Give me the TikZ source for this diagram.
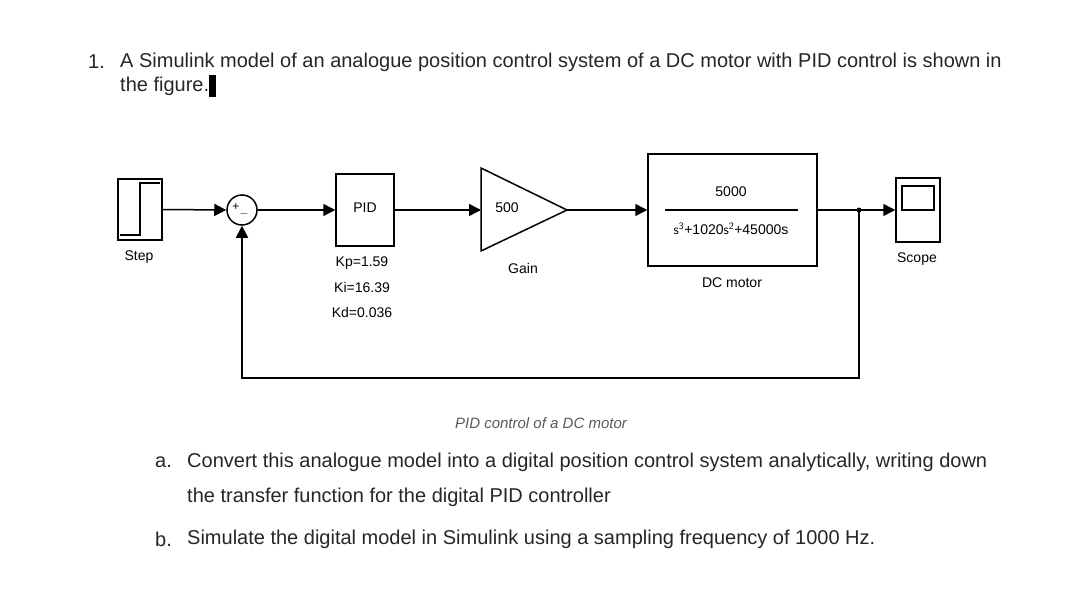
\documentclass[tikz,border=0pt]{standalone}
\usepackage{fontspec}
\setmainfont{Liberation Sans}
\begin{document}
\begin{tikzpicture}[x=1pt,y=-1pt,
  txt/.style={anchor=west,inner sep=0,font=\fontsize{20}{23}\selectfont,text=black!85},
  lbl/.style={inner sep=0,font=\fontsize{14}{16}\selectfont},
  blk/.style={draw,line width=1.5pt,inner sep=0},
  wire/.style={line width=1.5pt},
  arr/.style={wire,-{Triangle[length=12pt,width=12pt]}}]
\useasboundingbox (0,0) rectangle (1080,610);
\usetikzlibrary{arrows.meta}
% texts
\node[txt] (n1) at (88,62) {1.};
\node[txt] (t1) at (120,62) {A Simulink model of an analogue position control system of a DC motor with PID control is shown in};
\node[txt] (t2) at (120,86) {the figure.};
\fill (209,75) rectangle (216,97);
\node[inner sep=0,font=\fontsize{15}{18}\selectfont\itshape,text=black!65] (cap) at (541,423) {PID control of a DC motor};
\node[txt] (na) at (155,462) {a.};
\node[txt] (ta) at (187,462) {Convert this analogue model into a digital position control system analytically, writing down};
\node[txt] (ta2) at (187,497) {the transfer function for the digital PID controller};
\node[txt] (nb) at (155,539) {b.};
\node[txt] (tb) at (187,539) {Simulate the digital model in Simulink using a sampling frequency of 1000 Hz.};
% blocks
\node[blk,minimum width=44pt,minimum height=61pt] (step) at (140,209.5) {};
\draw[line width=1.2pt] (120,235) -- (140,235) -- (140,183) -- (160,183);
\node[lbl] (stepl) at (139,257) {Step};
\node[blk,circle,minimum size=30pt] (sum) at (242,210) {};
\node[lbl,font=\fontsize{12}{12}\selectfont] (plus) at (236,207) {+};
\node[lbl,font=\fontsize{12}{12}\selectfont] (minus) at (244,213) {\textbf{\_}};
\node[blk,minimum width=58pt,minimum height=72pt] (pid) at (365,210) {};
\node[lbl] (pidt) at (365,208) {PID};
\node[lbl] (kp) at (362,263) {Kp=1.59};
\node[lbl] (ki) at (362,287) {Ki=16.39};
\node[lbl] (kd) at (362,312) {Kd=0.036};
\coordinate (gin) at (481,210);
\draw[line width=1.5pt] (481,168) -- (567,210) -- (481,251) -- cycle;
\coordinate (gout) at (567,210);
\node[lbl] (g5) at (507,208) {500};
\node[lbl] (gl) at (523,268) {Gain};
\node[blk,minimum width=169pt,minimum height=112pt] (dc) at (732.5,210) {};
\node[lbl] (num) at (731,192) {5000};
\draw[line width=1.3pt] (665,210) -- (798,210);
\node[lbl] (den) at (731,229) {$\mathsf{s}^{\mathsf 3}$+1020$\mathsf{s}^{\mathsf 2}$+45000s};
\node[lbl] (dcl) at (732,283) {DC motor};
\node[blk,minimum width=44pt,minimum height=64pt] (scope) at (918,210) {};
\draw[line width=1.5pt] (902,186) rectangle (934,210);
\node[lbl] (scl) at (917,259) {Scope};
\coordinate (br) at (859,210);
\fill (br) circle (2.5pt);
\coordinate (b1) at (859,378);
\coordinate (b2) at (242,378);
% wires
\draw[arr] (step.east) -- (sum.west);
\draw[arr] (sum.east) -- (pid.west);
\draw[arr] (pid.east) -- (gin);
\draw[arr] (gout) -- (dc.west);
\draw[wire] (dc.east) -- (br);
\draw[arr] (br) -- (scope.west);
\draw[arr] (br) -- (b1) -- (b2) -- (sum.south);
\end{tikzpicture}
\end{document}
